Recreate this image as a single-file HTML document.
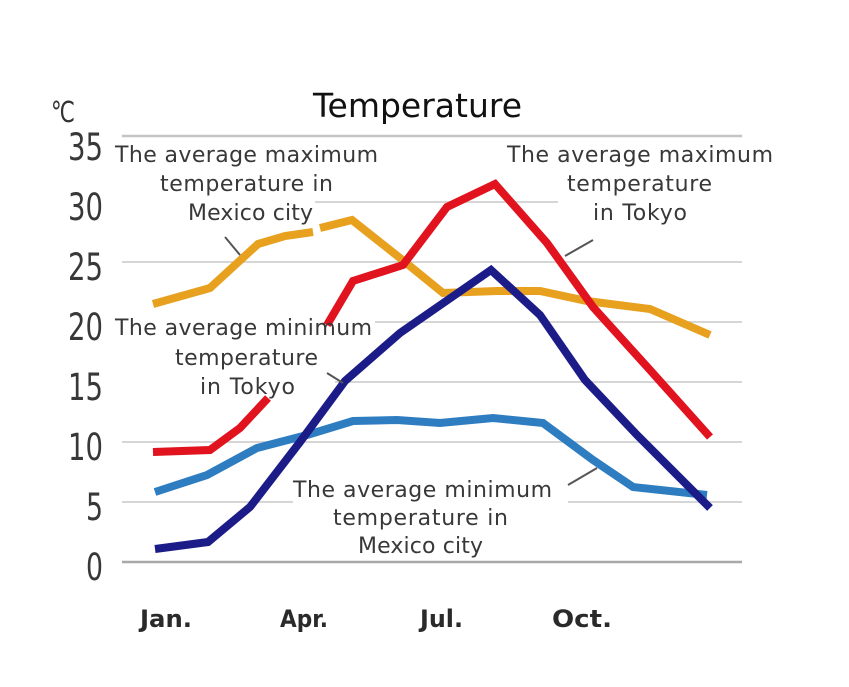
<!DOCTYPE html>
<html>
<head>
<meta charset="utf-8">
<style>
html,body{margin:0;padding:0;background:#fff;}
svg{display:block;}
text{font-family:"DejaVu Sans","Liberation Sans",sans-serif;}
</style>
</head>
<body>
<svg width="849" height="687" viewBox="0 0 849 687" xmlns="http://www.w3.org/2000/svg">
<rect width="849" height="687" fill="#fff"/>

<!-- gridlines -->
<g stroke="#d6d6d6" stroke-width="2" fill="none">
  <line x1="122" y1="136" x2="742" y2="136" stroke="#c4c4c4" stroke-width="2.5"/>
  <line x1="315" y1="202" x2="558" y2="202"/>
  <line x1="122" y1="262" x2="742" y2="262"/>
  <line x1="375" y1="322" x2="742" y2="322"/>
  <line x1="335" y1="382" x2="742" y2="382"/>
  <line x1="122" y1="442" x2="742" y2="442"/>
  <line x1="122" y1="502" x2="293" y2="502"/>
  <line x1="568" y1="502" x2="742" y2="502"/>
  <line x1="122" y1="562" x2="742" y2="562" stroke="#a8a8a8" stroke-width="2.5"/>
</g>

<!-- series -->
<g fill="none" stroke-width="8" stroke-linejoin="miter" stroke-linecap="butt">
  <polyline stroke="#E8A11F" points="153,304 210,288 258,244 285,236 313,232"/>
  <polyline stroke="#E8A11F" points="320,228 352,220 400,258 443,293 497,291 540,291 587,301 650,309 710,335"/>
  <polyline stroke="#2F7DC1" points="155,492 207,475 257,448 307,435 353,421 397,420 440,423 493,418 543,423 593,460 633,487 707,495"/>
  <polyline stroke="#1C1C88" points="155,549 208,542 250,507 300,442 345,381 400,333 491,270 540,315 585,380 637,435 710,508"/>
  <polyline stroke="#E0131F" points="153,452 210,450 240,428 268,398"/>
  <polyline stroke="#E0131F" points="327,325 353,281 403,265 447,207 495,184 547,243 593,307 650,370 710,437"/>
</g>

<!-- leader lines -->
<g stroke="#555" stroke-width="2">
  <line x1="225" y1="237" x2="240" y2="255"/>
  <line x1="593" y1="240" x2="565" y2="256"/>
  <line x1="327" y1="373" x2="343" y2="383"/>
  <line x1="568" y1="485" x2="597" y2="468"/>
</g>

<!-- title -->
<text x="313" y="117" font-size="33" fill="#111" textLength="209" lengthAdjust="spacingAndGlyphs">Temperature</text>
<text x="51" y="122" font-size="29" fill="#333" textLength="24" lengthAdjust="spacingAndGlyphs">℃</text>

<!-- y labels -->
<g font-size="37" fill="#383838" font-family="'Liberation Sans','DejaVu Sans',sans-serif">
  <text x="68" y="160" textLength="35" lengthAdjust="spacingAndGlyphs">35</text>
  <text x="68" y="220" textLength="35" lengthAdjust="spacingAndGlyphs">30</text>
  <text x="68" y="280" textLength="35" lengthAdjust="spacingAndGlyphs">25</text>
  <text x="68" y="340" textLength="35" lengthAdjust="spacingAndGlyphs">20</text>
  <text x="68" y="400" textLength="35" lengthAdjust="spacingAndGlyphs">15</text>
  <text x="68" y="460" textLength="35" lengthAdjust="spacingAndGlyphs">10</text>
  <text x="86" y="520" textLength="17" lengthAdjust="spacingAndGlyphs">5</text>
  <text x="86" y="580" textLength="17" lengthAdjust="spacingAndGlyphs">0</text>
</g>

<!-- x labels -->
<g font-size="24" font-weight="bold" fill="#2a2a2a">
  <text x="140" y="627" textLength="52" lengthAdjust="spacingAndGlyphs">Jan.</text>
  <text x="280" y="627" textLength="48" lengthAdjust="spacingAndGlyphs">Apr.</text>
  <text x="420" y="627" textLength="43" lengthAdjust="spacingAndGlyphs">Jul.</text>
  <text x="552" y="627" textLength="60" lengthAdjust="spacingAndGlyphs">Oct.</text>
</g>

<!-- annotations -->
<g font-size="22" fill="#383838">
  <text x="115" y="162" textLength="263" lengthAdjust="spacing">The average maximum</text>
  <text x="160" y="191" textLength="173" lengthAdjust="spacing">temperature in</text>
  <text x="188" y="220" textLength="125" lengthAdjust="spacing">Mexico city</text>

  <text x="507" y="162" textLength="266" lengthAdjust="spacing">The average maximum</text>
  <text x="567" y="191" textLength="145" lengthAdjust="spacing">temperature</text>
  <text x="593" y="220" textLength="94" lengthAdjust="spacing">in Tokyo</text>

  <text x="115" y="335" textLength="257" lengthAdjust="spacing">The average minimum</text>
  <text x="175" y="365" textLength="143" lengthAdjust="spacing">temperature</text>
  <text x="200" y="394" textLength="95" lengthAdjust="spacing">in Tokyo</text>

  <text x="293" y="497" textLength="259" lengthAdjust="spacing">The average minimum</text>
  <text x="333" y="525" textLength="175" lengthAdjust="spacing">temperature in</text>
  <text x="358" y="553" textLength="125" lengthAdjust="spacing">Mexico city</text>
</g>
</svg>
</body>
</html>
